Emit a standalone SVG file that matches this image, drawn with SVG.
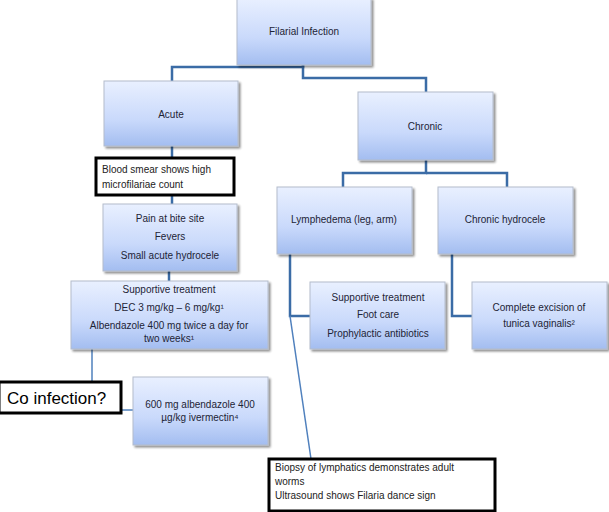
<svg xmlns="http://www.w3.org/2000/svg" width="609" height="512" viewBox="0 0 609 512">
<defs>
<linearGradient id="g" x1="0" y1="0" x2="0" y2="1">
<stop offset="0" stop-color="#e9f0ff"/>
<stop offset="0.6" stop-color="#c9d9fb"/>
<stop offset="1" stop-color="#a3bdf0"/>
</linearGradient>
<filter id="sh" x="-10%" y="-10%" width="130%" height="130%">
<feGaussianBlur in="SourceAlpha" stdDeviation="1.2"/>
<feOffset dx="1.5" dy="2" result="b"/>
<feComponentTransfer><feFuncA type="linear" slope="0.45"/></feComponentTransfer>
<feMerge><feMergeNode/><feMergeNode in="SourceGraphic"/></feMerge>
</filter>
</defs>
<style>
.b{fill:url(#g);stroke:#b4bccb;stroke-width:1;filter:url(#sh)}
.w{fill:#fff;stroke:#000;stroke-width:3}
.t{font-family:"Liberation Sans",Arial,sans-serif;font-size:10px;fill:#1d2436;text-anchor:middle}
.k{font-family:"Liberation Sans",Arial,sans-serif;font-size:10px;fill:#222;text-anchor:start}
.c{fill:none;stroke:#3b6ca6;stroke-width:2.5}
.c2{fill:none;stroke:#4f80bd;stroke-width:1.5}
</style>
<rect width="609" height="512" fill="#fff"/>
<g id="connectors">
<path class="c" d="M303 65 V67 H172 V81"/>
<path class="c" d="M303 65 V78 H426 V92"/>
<path class="c" d="M172 146 V158"/>
<path class="c" d="M172 195 V204"/>
<path class="c" d="M169 271 V281"/>
<path class="c" d="M426 160 V173 H343 V187"/>
<path class="c" d="M426 173 H507 V187"/>
<path class="c" d="M290 254 V316 H310"/>
<path class="c2" d="M290 316 L311 459"/>
<path class="c" d="M452 254 V316 H472"/>
<path class="c2" d="M92 349 V382"/>
<path class="c2" d="M121 410 H133"/>
</g>
<g id="n-filarial">
<rect class="b" x="237" y="-2" width="134" height="67"/>
<text class="t" x="304" y="35">Filarial Infection</text>
</g>
<g id="n-acute">
<rect class="b" x="104" y="81" width="134" height="65"/>
<text class="t" x="171" y="118">Acute</text>
</g>
<g id="n-chronic">
<rect class="b" x="358" y="92" width="135" height="68"/>
<text class="t" x="425" y="130">Chronic</text>
</g>
<g id="n-blood">
<rect class="w" x="96" y="158" width="138" height="37"/>
<text class="k" x="102" y="173">Blood smear shows high</text>
<text class="k" x="102" y="188">microfilariae count</text>
</g>
<g id="n-pain">
<rect class="b" x="103" y="204" width="134" height="67"/>
<text class="t" x="170" y="222">Pain at bite site</text>
<text class="t" x="170" y="240">Fevers</text>
<text class="t" x="170" y="259">Small acute hydrocele</text>
</g>
<g id="n-supp-acute">
<rect class="b" x="71" y="281" width="197" height="68"/>
<text class="t" x="169" y="293">Supportive treatment</text>
<text class="t" x="169" y="311">DEC 3 mg/kg – 6 mg/kg¹</text>
<text class="t" x="169" y="329">Albendazole 400 mg twice a day for</text>
<text class="t" x="169" y="342">two weeks¹</text>
</g>
<g id="n-coinf">
<rect class="w" x="-1" y="382" width="122" height="31"/>
<text x="7" y="404" style="font-family:'Liberation Sans',Arial,sans-serif;font-size:17px;fill:#000">Co infection?</text>
</g>
<g id="n-600">
<rect class="b" x="133" y="377" width="135" height="68"/>
<text class="t" x="200" y="408">600 mg albendazole 400</text>
<text class="t" x="200" y="421">µg/kg ivermectin⁴</text>
</g>
<g id="n-lymph">
<rect class="b" x="277" y="187" width="135" height="67"/>
<text class="t" x="344" y="223">Lymphedema (leg, arm)</text>
</g>
<g id="n-hydro">
<rect class="b" x="438" y="187" width="135" height="67"/>
<text class="t" x="505" y="223">Chronic hydrocele</text>
</g>
<g id="n-supp-chronic">
<rect class="b" x="310" y="282" width="135" height="67"/>
<text class="t" x="378" y="301">Supportive treatment</text>
<text class="t" x="378" y="318">Foot care</text>
<text class="t" x="378" y="337">Prophylactic antibiotics</text>
</g>
<g id="n-excision">
<rect class="b" x="472" y="282" width="135" height="67"/>
<text class="t" x="539" y="311">Complete excision of</text>
<text class="t" x="539" y="327">tunica vaginalis²</text>
</g>
<g id="n-biopsy">
<rect class="w" x="269" y="459" width="226" height="52"/>
<text class="k" x="275" y="471">Biopsy of lymphatics demonstrates adult</text>
<text class="k" x="275" y="485">worms</text>
<text class="k" x="275" y="499">Ultrasound shows Filaria dance sign</text>
</g>
</svg>
